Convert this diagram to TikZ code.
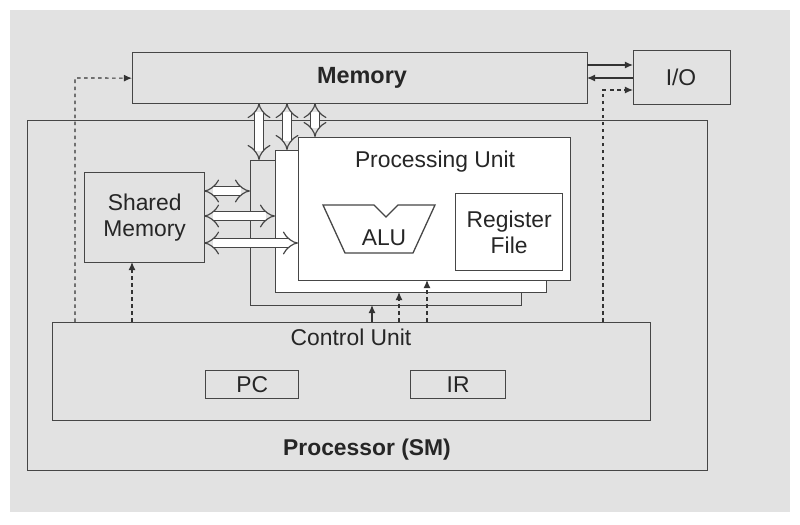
\documentclass[tikz,border=0pt]{standalone}
\usepackage{fontspec}
\setmainfont{Liberation Sans}
\usetikzlibrary{arrows.meta}
\definecolor{bggray}{RGB}{226,226,226}
\definecolor{linegray}{RGB}{70,70,70}
\tikzset{
  box/.style={draw=linegray,line width=1.1pt,inner sep=0pt,anchor=north west},
  lbl/.style={font=\fontsize{19.5}{22}\selectfont,text=black!85},
  bus/.style={draw=linegray,double=white,double distance=6pt,line width=1pt,{Implies}-{Implies}},
  ctl/.style={draw=black!80,dashed,line width=1pt,-{Latex[length=7pt,width=6pt]}},
  sig/.style={draw=black!80,line width=1pt,-{Latex[length=7pt,width=6pt]}}
}
\begin{document}
\begin{tikzpicture}[x=0.03cm,y=-0.03cm]
\useasboundingbox (0,0) rectangle (800,524);
\fill[white] (0,0) rectangle (800,524);
\fill[bggray] (10,10) rectangle (790,512);

% outer boxes
\node[box,minimum width=680*0.03cm,minimum height=350*0.03cm] (proc) at (27,120) {};
\node[lbl,font=\fontsize{19.5}{22}\selectfont\bfseries] (proclbl) at (367,450) {Processor (SM)};
\node[box,fill=bggray,minimum width=455*0.03cm,minimum height=51*0.03cm] (mem) at (132,52) {};
\node[lbl,font=\fontsize{20}{22}\selectfont\bfseries] (memlbl) at (362,78) {Memory};
\node[box,minimum width=97*0.03cm,minimum height=54*0.03cm] (io) at (633,50) {};
\node[lbl] (iolbl) at (681,77) {I/O};

% control unit
\node[box,minimum width=598*0.03cm,minimum height=98*0.03cm] (ctrl) at (52,322) {};
\node[lbl] (ctrllbl) at (351,337) {Control Unit};
\node[box,minimum width=93*0.03cm,minimum height=28*0.03cm] (pc) at (205,370) {};
\node[lbl] at (pc.center) {PC};
\node[box,minimum width=95*0.03cm,minimum height=28*0.03cm] (ir) at (410,370) {};
\node[lbl] at (ir.center) {IR};

% shared memory
\node[box,minimum width=120*0.03cm,minimum height=90*0.03cm] (shm) at (84,172) {};
\node[lbl,align=center] at (shm.center) {Shared\\Memory};

% processing units
\node[box,minimum width=271*0.03cm,minimum height=145*0.03cm] (pu3) at (250,160) {};
\node[box,fill=white,minimum width=271*0.03cm,minimum height=142*0.03cm] (pu2) at (275,150) {};
\node[box,fill=white,minimum width=272*0.03cm,minimum height=143*0.03cm] (pu1) at (298,137) {};
\node[lbl] (pulbl) at (435,162) {Processing Unit};
\draw[linegray,line width=1.1pt] (323,205) -- (374,205) -- (386,217) -- (398,205) -- (435,205)
      -- (413,253) -- (345,253) -- cycle;
\node[lbl] (alu) at (384,238) {ALU};
\node[box,minimum width=107*0.03cm,minimum height=77*0.03cm] (reg) at (455,193) {};
\node[lbl,align=center] at (reg.center) {Register\\File};

% memory buses
\coordinate (m1) at (259,103);
\coordinate (m2) at (287,103);
\coordinate (m3) at (315,103);
\draw[bus] (m1) -- (259,160);
\draw[bus] (m2) -- (287,150);
\draw[bus] (m3) -- (315,137);

% shared memory buses
\draw[bus] (204,191) -- (250,191);
\draw[bus] (204,216) -- (275,216);
\draw[bus] (204,243) -- (298,243);

% control lines
\draw[ctl] (75,322) -- (75,78) -- (mem.west);
\draw[ctl] (132,322) -- (132,262);
\draw[sig] (372,322) -- (372,305);
\draw[ctl] (399,322) -- (399,292);
\draw[ctl] (427,322) -- (427,280);
\draw[ctl] (603,322) -- (603,90) -- (633,90);
\draw[sig] (587,65) -- (633,65);
\draw[sig] (633,78) -- (587,78);
\end{tikzpicture}
\end{document}
